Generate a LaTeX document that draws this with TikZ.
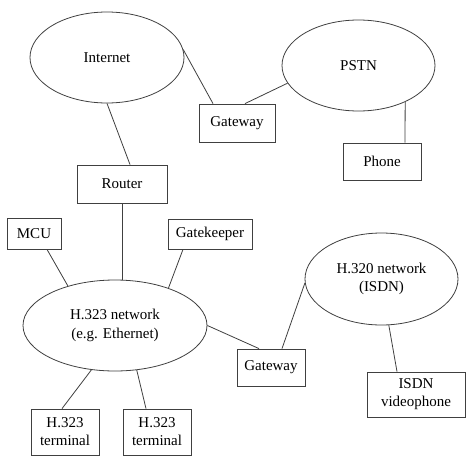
\documentclass[tikz,border=0pt]{standalone}
\usepackage{fontspec}
\setmainfont{Liberation Serif}
\usetikzlibrary{shapes.geometric}
\begin{document}
\begin{tikzpicture}[x=1pt,y=-1pt,
  ln/.style={draw=black!75,line width=0.8pt},
  net/.style={ellipse,ln,inner sep=0pt,align=center,font=\fontsize{15}{18.5}\selectfont},
  box/.style={rectangle,ln,inner sep=0pt,align=center,font=\fontsize{15}{18}\selectfont}]
\useasboundingbox[fill=white] (0,0) rectangle (474,474);
% networks
\node[net,minimum width=154pt,minimum height=91pt] (inet) at (107,57.5) {Internet};
\node[net,minimum width=153pt,minimum height=91pt] (pstn) at (358.5,65.5) {PSTN};
\node[net,minimum width=184pt,minimum height=91pt] (h323) at (115,325.5) {H.323 network\\(e.g. Ethernet)};
\node[net,minimum width=153pt,minimum height=92pt] (h320) at (381.5,279) {H.320 network\\(ISDN)};
% boxes
\node[box,minimum width=76pt,minimum height=38pt] (gw1) at (237,123) {Gateway};
\node[box,minimum width=78pt,minimum height=37pt] (phone) at (382,161.5) {Phone};
\node[box,minimum width=90pt,minimum height=38pt] (router) at (122,184) {Router};
\node[box,minimum width=54pt,minimum height=31pt] (mcu) at (34,233.5) {MCU};
\node[box,minimum width=84pt,minimum height=30pt] (gk) at (210,234) {Gatekeeper};
\node[box,minimum width=68pt,minimum height=37pt] (gw2) at (271,367.5) {Gateway};
\node[box,minimum width=98pt,minimum height=45pt] (vp) at (416,394.5) {ISDN\\videophone};
\node[box,minimum width=68pt,minimum height=46pt] (t1) at (65,432) {H.323\\terminal};
\node[box,minimum width=68pt,minimum height=46pt] (t2) at (157,432) {H.323\\terminal};
% connectors
\draw[ln] (inet.6) -- ([xshift=-24pt]gw1.north);
\draw[ln] ([xshift=8pt]gw1.north) -- (pstn.194);
\draw[ln] (pstn.322) -- ([xshift=23pt]phone.north);
\draw[ln] (inet.south) -- ([xshift=8pt]router.north);
\draw[ln] (router.south) -- (h323.north -| router.south);
\draw[ln] ([xshift=13pt]mcu.south) -- (h323.140.7);
\draw[ln] ([xshift=-27pt]gk.south) -- (h323.35.3);
\draw[ln] (h323.east) -- ([xshift=-12pt]gw2.north);
\draw[ln] ([xshift=11pt]gw2.north) -- (h320.183);
\draw[ln] (h320.279) -- ([xshift=-19pt]vp.north);
\draw[ln] (h323.242.7) -- ([xshift=-3pt]t1.north);
\draw[ln] (h323.296.8) -- ([xshift=-11pt]t2.north);
\end{tikzpicture}
\end{document}
